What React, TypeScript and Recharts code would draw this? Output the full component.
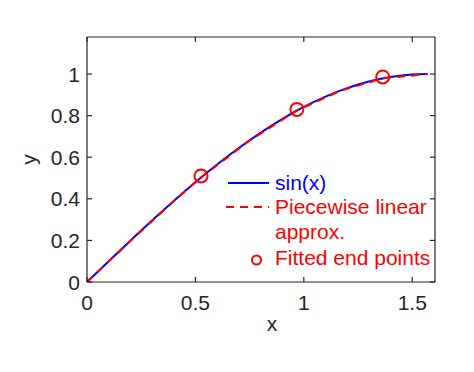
import React from 'react';
import { ComposedChart, Line, Scatter, XAxis, YAxis, Legend } from 'recharts';

// sin(x) curve samples
const sinX = [0, 0.1, 0.2, 0.3, 0.4, 0.5, 0.6, 0.7, 0.8, 0.9, 1.0, 1.1, 1.2, 1.3, 1.4, 1.5, 1.5708];
const sinY = [0, 0.0998, 0.1987, 0.2955, 0.3894, 0.4794, 0.5646, 0.6442, 0.7174, 0.7833, 0.8415, 0.8912, 0.932, 0.9636, 0.9854, 0.9975, 1.0];

// piecewise linear approximation
const approxX = [0, 0.2, 0.4, 0.526, 0.75, 0.968, 1.17, 1.364, 1.5708];
const approxY = [0, 0.197, 0.388, 0.503, 0.68, 0.825, 0.92, 0.979, 1.0];

// fitted end points
const fitX = [0.526, 0.968, 1.364];
const fitY = [0.51, 0.83, 0.986];

const xTicks = [0, 0.5, 1, 1.5];
const yTicks = [0, 0.2, 0.4, 0.6, 0.8, 1];
const xDomain = [0, 1.605];
const yDomain = [0, 1.178];

const legendLabels = ['sin(x)', 'Piecewise linear', 'approx.', 'Fitted end points'];
const xLabel = 'x';
const yLabel = 'y';

const BLUE = '#0000ff';
const RED = '#ff0000';
const AXIS = '#262626';
const FONT = '"Liberation Sans", Arial, Helvetica, sans-serif';
const TICK_LEN = 5;

const sinData = sinX.map((x, i) => ({ x, y: sinY[i] }));
const approxData = approxX.map((x, i) => ({ x, y: approxY[i] }));
const fitData = fitX.map((x, i) => ({ x, y: fitY[i] }));

const fmt = (v: number) => String(v);

const BottomTick = (p: any) => (
  <g>
    <line x1={p.x} y1={p.y} x2={p.x} y2={p.y - TICK_LEN} stroke={AXIS} strokeWidth={1.2} />
    <text x={p.x} y={p.y + 28} textAnchor="middle" fill={AXIS} fontSize={21} fontFamily={FONT}>
      {fmt(p.payload.value)}
    </text>
  </g>
);
const TopTick = (p: any) => (
  <line x1={p.x} y1={p.y} x2={p.x} y2={p.y + TICK_LEN} stroke={AXIS} strokeWidth={1.2} />
);
const LeftTick = (p: any) => (
  <g>
    <line x1={p.x} y1={p.y} x2={p.x + TICK_LEN} y2={p.y} stroke={AXIS} strokeWidth={1.2} />
    <text x={p.x - 7} y={p.y + 7.5} textAnchor="end" fill={AXIS} fontSize={21} fontFamily={FONT}>
      {fmt(p.payload.value)}
    </text>
  </g>
);
const RightTick = (p: any) => (
  <line x1={p.x} y1={p.y} x2={p.x - TICK_LEN} y2={p.y} stroke={AXIS} strokeWidth={1.2} />
);

const LegendBox = () => (
  <svg width={220} height={105} style={{ display: 'block', overflow: 'visible' }}>
    <g fontFamily={FONT} fontSize={21}>
      <line x1={8} y1={13} x2={49} y2={13} stroke={BLUE} strokeWidth={2} />
      <text x={55} y={20} fill={BLUE}>{legendLabels[0]}</text>
      <line x1={6} y1={37} x2={49} y2={37} stroke={RED} strokeWidth={2} strokeDasharray="8 6" />
      <text x={55} y={44} fill={RED}>{legendLabels[1]}</text>
      <text x={55} y={69} fill={RED}>{legendLabels[2]}</text>
      <circle cx={36.5} cy={90} r={4.5} fill="none" stroke={RED} strokeWidth={2} />
      <text x={55} y={95} fill={RED}>{legendLabels[3]}</text>
    </g>
  </svg>
);

const YLabelContent = (props: any) => {
  const vb = props.viewBox || { x: 31, y: 37, width: 56, height: 245 };
  const x = vb.x + 4.5;
  const y = vb.y + vb.height / 2;
  return (
    <text x={x} y={y} transform={`rotate(-90, ${x}, ${y})`} textAnchor="middle" fill={AXIS} fontSize={21} fontFamily={FONT}>
      {yLabel}
    </text>
  );
};

const XLabelContent = (props: any) => {
  const vb = props.viewBox || { x: 87, y: 282, width: 348, height: 31 };
  const x = vb.x + vb.width / 2 + 11;
  const y = vb.y + 49;
  return (
    <text x={x} y={y} textAnchor="middle" fill={AXIS} fontSize={21} fontFamily={FONT}>
      {xLabel}
    </text>
  );
};

const CircleShape = (props: any) => (
  <circle cx={props.cx} cy={props.cy} r={6.5} fill="none" stroke={RED} strokeWidth={2} />
);

export default function App() {
  return (
    <div style={{ position: 'absolute', left: 0, top: 0, width: 474, height: 372, background: '#fff', fontFamily: FONT }}>
      <ComposedChart width={474} height={372} margin={{ top: 36, right: 38, left: 31, bottom: 59 }}>
        <XAxis
          xAxisId={0}
          dataKey="x"
          type="number"
          domain={xDomain}
          ticks={xTicks}
          allowDataOverflow
          height={31}
          tickSize={0}
          tickMargin={0}
          tickLine={false}
          tick={BottomTick}
          axisLine={{ stroke: AXIS, strokeWidth: 1.2 }}
          label={{ content: XLabelContent }}
        />
        <XAxis
          xAxisId="top"
          orientation="top"
          dataKey="x"
          type="number"
          domain={xDomain}
          ticks={xTicks}
          allowDataOverflow
          height={1}
          tickSize={0}
          tickMargin={0}
          tickLine={false}
          tick={TopTick}
          axisLine={{ stroke: AXIS, strokeWidth: 1.2 }}
        />
        <YAxis
          yAxisId={0}
          dataKey="y"
          type="number"
          domain={yDomain}
          ticks={yTicks}
          allowDataOverflow
          width={56}
          tickSize={0}
          tickMargin={0}
          tickLine={false}
          tick={LeftTick}
          axisLine={{ stroke: AXIS, strokeWidth: 1.2 }}
          label={{ content: YLabelContent }}
        />
        <YAxis
          yAxisId="right"
          orientation="right"
          dataKey="y"
          type="number"
          domain={yDomain}
          ticks={yTicks}
          allowDataOverflow
          width={1}
          tickSize={0}
          tickMargin={0}
          tickLine={false}
          tick={RightTick}
          axisLine={{ stroke: AXIS, strokeWidth: 1.2 }}
        />
        <Line
          data={sinData}
          dataKey="y"
          type="monotone"
          stroke={BLUE}
          strokeWidth={2}
          dot={false}
          activeDot={false}
          isAnimationActive={false}
        />
        <Line
          xAxisId="top"
          yAxisId="right"
          data={sinData}
          dataKey="y"
          stroke="none"
          dot={false}
          activeDot={false}
          legendType="none"
          isAnimationActive={false}
        />
        <Line
          data={approxData}
          dataKey="y"
          type="linear"
          stroke={RED}
          strokeWidth={2}
          strokeDasharray="8 6"
          dot={false}
          activeDot={false}
          isAnimationActive={false}
        />
        <Scatter data={fitData} dataKey="y" shape={CircleShape} isAnimationActive={false} />
        <Legend
          layout="vertical"
          align="center"
          verticalAlign="middle"
          content={() => <LegendBox />}
          wrapperStyle={{ position: 'absolute', left: 220, top: 170, width: 220, height: 105 }}
        />
      </ComposedChart>
    </div>
  );
}
